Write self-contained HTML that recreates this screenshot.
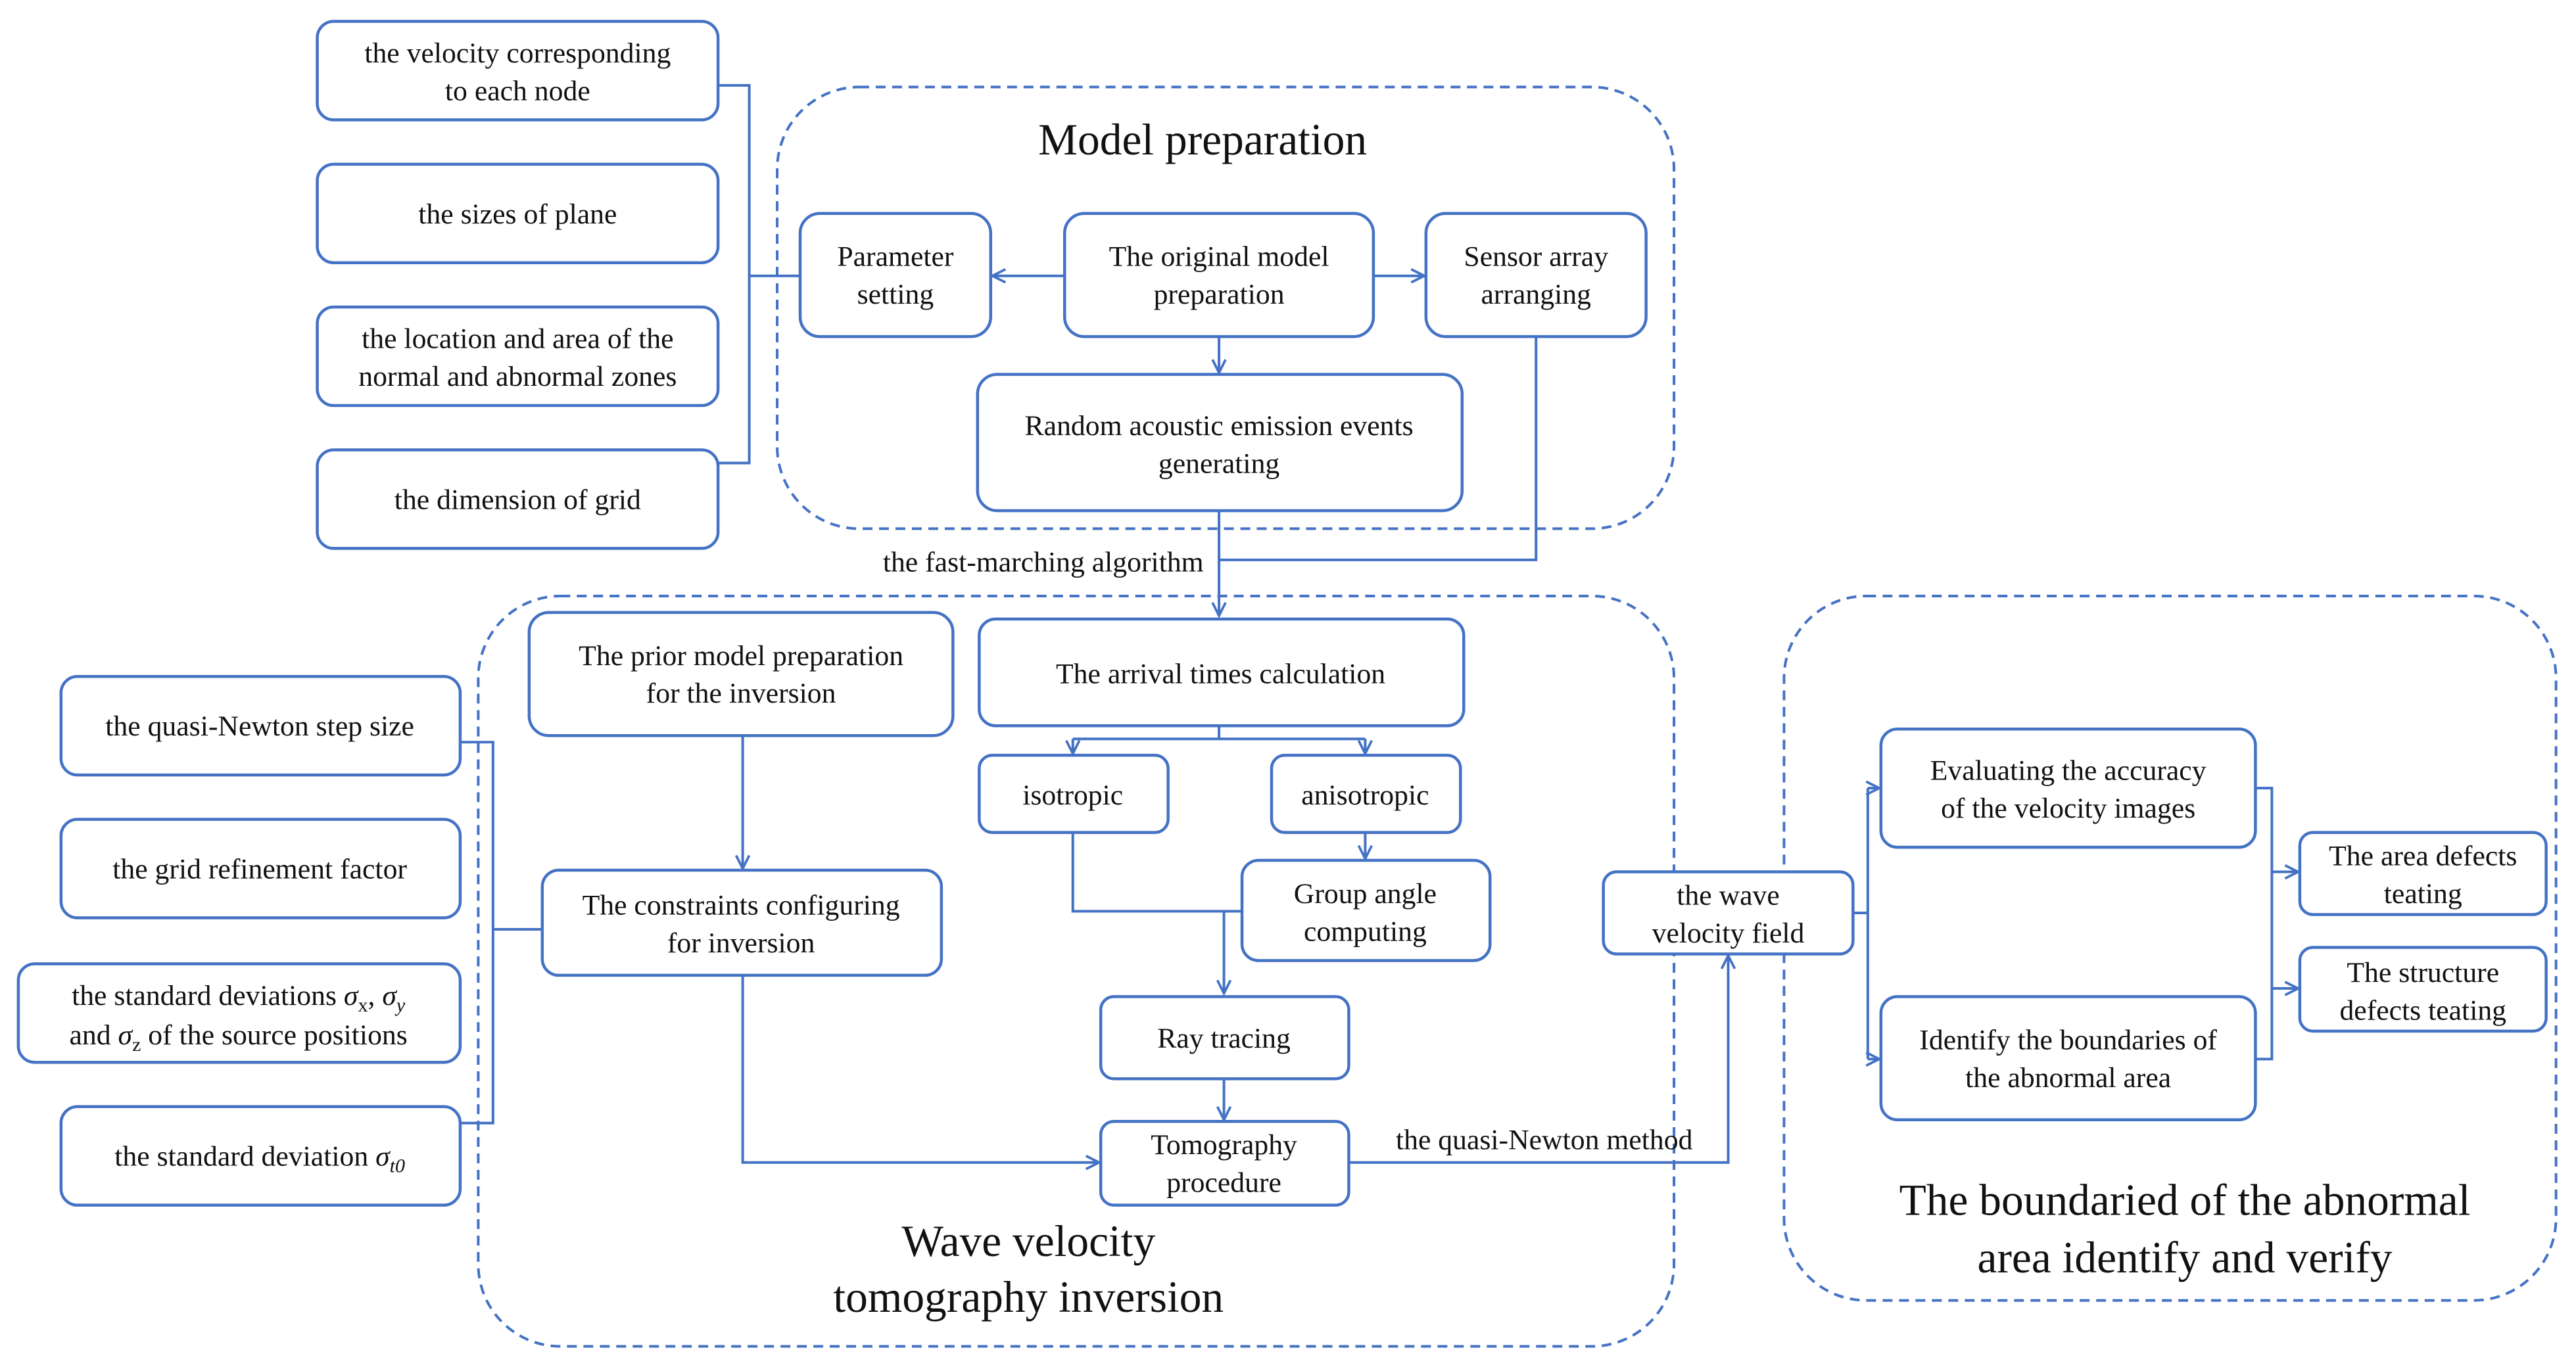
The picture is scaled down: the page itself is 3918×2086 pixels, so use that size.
<!DOCTYPE html>
<html><head><meta charset="utf-8"><style>
html,body{margin:0;padding:0;background:#fff;}
svg{display:block;}
text{font-family:"Liberation Serif",serif;fill:#111;}
</style></head><body>
<svg width="3918" height="2086" viewBox="0 0 1568 835" xmlns="http://www.w3.org/2000/svg">
<defs>
<marker id="a" viewBox="0 0 10 10" refX="9" refY="5" markerWidth="10" markerHeight="10" orient="auto" markerUnits="userSpaceOnUse">
<path d="M1,1 L9,5 L1,9" fill="none" stroke="#4472C4" stroke-width="1.5"/>
</marker>
</defs>
<g fill="none" stroke="#4472C4" stroke-width="1.6" stroke-dasharray="6,4">
<rect x="473" y="53" width="546" height="269" rx="50"/>
<rect x="291" y="363" width="728" height="457" rx="50"/>
<rect x="1086" y="363" width="470" height="429" rx="50"/>
</g>
<g fill="#fff" stroke="#4472C4" stroke-width="1.8">
<rect x="193" y="13" width="244" height="60" rx="10"/>
<rect x="193" y="100" width="244" height="60" rx="10"/>
<rect x="193" y="187" width="244" height="60" rx="10"/>
<rect x="193" y="274" width="244" height="60" rx="10"/>
<rect x="487" y="130" width="116" height="75" rx="12"/>
<rect x="648" y="130" width="188" height="75" rx="12"/>
<rect x="868" y="130" width="134" height="75" rx="12"/>
<rect x="595" y="228" width="295" height="83" rx="12"/>
<rect x="322" y="373" width="258" height="75" rx="12"/>
<rect x="596" y="377" width="295" height="65" rx="10"/>
<rect x="596" y="460" width="115" height="47" rx="8"/>
<rect x="774" y="460" width="115" height="47" rx="8"/>
<rect x="756" y="524" width="151" height="61" rx="10"/>
<rect x="330" y="530" width="243" height="64" rx="10"/>
<rect x="670" y="607" width="151" height="50" rx="8"/>
<rect x="670" y="683" width="151" height="51" rx="8"/>
<rect x="37" y="412" width="243" height="60" rx="10"/>
<rect x="37" y="499" width="243" height="60" rx="10"/>
<rect x="11" y="587" width="269" height="60" rx="10"/>
<rect x="37" y="674" width="243" height="60" rx="10"/>
<rect x="976" y="531" width="152" height="50" rx="8"/>
<rect x="1145" y="444" width="228" height="72" rx="10"/>
<rect x="1145" y="607" width="228" height="75" rx="10"/>
<rect x="1400" y="507" width="150" height="50" rx="8"/>
<rect x="1400" y="577" width="150" height="51" rx="8"/>
</g>
<g fill="none" stroke="#4472C4" stroke-width="1.6">
<path d="M437,52 H456 V282 H437 M456,168 H487"/>
<path d="M280,452 H300 V684 H280 M300,566 H330"/>
<path d="M648,168 H604" marker-end="url(#a)"/>
<path d="M836,168 H867" marker-end="url(#a)"/>
<path d="M742,205 V227" marker-end="url(#a)"/>
<path d="M742,311 V375" marker-end="url(#a)"/>
<path d="M935,205 V341 H742"/>
<path d="M742,442 V450 M653,450 H831"/>
<path d="M653,450 V459" marker-end="url(#a)"/>
<path d="M831,450 V459" marker-end="url(#a)"/>
<path d="M831,507 V523" marker-end="url(#a)"/>
<path d="M653,507 V555 H756"/>
<path d="M745,555 V605" marker-end="url(#a)"/>
<path d="M745,657 V682" marker-end="url(#a)"/>
<path d="M452,448 V529" marker-end="url(#a)"/>
<path d="M452,594 V708 H669" marker-end="url(#a)"/>
<path d="M821,708 H1052 V582" marker-end="url(#a)"/>
<path d="M1128,556 H1137 M1137,480 V645"/>
<path d="M1137,480 H1144" marker-end="url(#a)"/>
<path d="M1137,645 H1144" marker-end="url(#a)"/>
<path d="M1373,480 H1383 V645 H1373"/>
<path d="M1383,531 H1399" marker-end="url(#a)"/>
<path d="M1383,602 H1399" marker-end="url(#a)"/>
</g>
<g font-size="17.5" text-anchor="middle">
<text x="315" y="38">the velocity corresponding</text>
<text x="315" y="61">to each node</text>
<text x="315" y="136">the sizes of  plane</text>
<text x="315" y="212">the location and area of  the</text>
<text x="315" y="235">normal and abnormal zones</text>
<text x="315" y="310">the dimension of grid</text>
<text x="545" y="162">Parameter</text>
<text x="545" y="185">setting</text>
<text x="742" y="162">The original model</text>
<text x="742" y="185">preparation</text>
<text x="935" y="162">Sensor array</text>
<text x="935" y="185">arranging</text>
<text x="742" y="265">Random acoustic emission events</text>
<text x="742" y="288">generating</text>
<text x="635" y="348">the fast-marching algorithm</text>
<text x="451" y="405">The prior model preparation</text>
<text x="451" y="428">for the inversion</text>
<text x="743" y="416">The arrival times calculation</text>
<text x="653" y="490">isotropic</text>
<text x="831" y="490">anisotropic</text>
<text x="831" y="550">Group angle</text>
<text x="831" y="573">computing</text>
<text x="451" y="557">The constraints configuring</text>
<text x="451" y="580">for inversion</text>
<text x="745" y="638">Ray tracing</text>
<text x="745" y="703">Tomography</text>
<text x="745" y="726">procedure</text>
<text x="940" y="700">the quasi-Newton method</text>
<text x="158" y="448">the quasi-Newton step size</text>
<text x="158" y="535">the grid refinement factor</text>
<text x="145" y="612">the standard deviations <tspan font-style="italic">σ</tspan><tspan font-size="12" dy="4">x</tspan><tspan dy="-4">, </tspan><tspan font-style="italic">σ</tspan><tspan font-size="12" font-style="italic" dy="4">y</tspan></text>
<text x="145" y="636">and <tspan font-style="italic">σ</tspan><tspan font-size="12" dy="4">z</tspan><tspan dy="-4"> of the source positions</tspan></text>
<text x="158" y="710">the standard deviation <tspan font-style="italic">σ</tspan><tspan font-size="12" font-style="italic" dy="4">t0</tspan></text>
<text x="1052" y="551">the wave</text>
<text x="1052" y="574">velocity field</text>
<text x="1259" y="475">Evaluating the accuracy</text>
<text x="1259" y="498">of the velocity images</text>
<text x="1259" y="639">Identify the boundaries of</text>
<text x="1259" y="662">the abnormal area</text>
<text x="1475" y="527">The area defects</text>
<text x="1475" y="550">teating</text>
<text x="1475" y="598">The structure</text>
<text x="1475" y="621">defects teating</text>
</g>
<g font-size="27" text-anchor="middle">
<text x="732" y="94">Model preparation</text>
<text x="626" y="765">Wave velocity</text>
<text x="626" y="799">tomography inversion</text>
<text x="1330" y="740">The boundaried of the abnormal</text>
<text x="1330" y="775">area identify and verify</text>
</g>
</svg>
</body></html>
